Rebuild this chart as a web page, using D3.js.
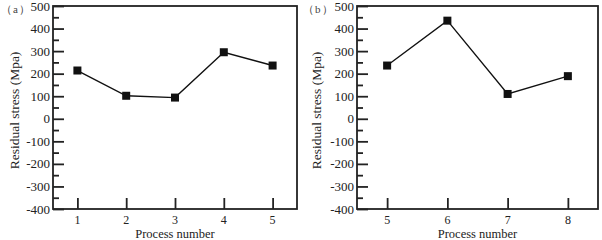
<!DOCTYPE html>
<html>
<head>
<meta charset="utf-8">
<script src="https://cdn.jsdelivr.net/npm/d3@7"></script>
<style>
  body { margin: 0; background: #fff; }
  text { font-family: "Liberation Serif", "Times New Roman", serif; fill: #222; }
</style>
</head>
<body>
<svg id="chart" width="602" height="240"></svg>
<script>
// panel (a)
const processA = [1, 2, 3, 4, 5];
const stressA = [214, 102, 94, 295, 236];
// panel (b)
const processB = [5, 6, 7, 8];
const stressB = [236, 435, 110, 189];

const yTicks = [-400, -300, -200, -100, 0, 100, 200, 300, 400, 500];
const yMinor = [-350, -250, -150, -50, 50, 150, 250, 350, 450];

const svg = d3.select("#chart");

const panels = [
  {label: "（a）", xs: processA, ys: stressA, left: 53, right: 297, labelX: 1, axisTitleX: 14},
  {label: "（b）", xs: processB, ys: stressB, left: 357, right: 598, labelX: 303, axisTitleX: 316}
];

const TOP = 6, BOTTOM = 209;

panels.forEach((p) => {
  const x = d3.scaleLinear()
    .domain([d3.min(p.xs) - 0.5, d3.max(p.xs) + 0.5])
    .range([p.left, p.right]);
  const y = d3.scaleLinear().domain([-400, 500]).range([BOTTOM, TOP]);

  const g = svg.append("g");

  // frame
  g.append("rect")
    .attr("x", p.left).attr("y", TOP)
    .attr("width", p.right - p.left).attr("height", BOTTOM - TOP)
    .attr("fill", "none").attr("stroke", "#222").attr("stroke-width", 1.8);

  // y major ticks (inward)
  const yAxis = g.append("g")
    .attr("transform", "translate(" + p.left + ",0)")
    .call(d3.axisRight(y).tickValues(yTicks).tickSize(11).tickFormat(""));
  yAxis.select(".domain").remove();
  yAxis.selectAll("line").attr("stroke", "#222").attr("stroke-width", 1.8);

  // y minor ticks
  const yAxisMinor = g.append("g")
    .attr("transform", "translate(" + p.left + ",0)")
    .call(d3.axisRight(y).tickValues(yMinor).tickSize(6).tickFormat(""));
  yAxisMinor.select(".domain").remove();
  yAxisMinor.selectAll("line").attr("stroke", "#222").attr("stroke-width", 1.8);

  // y tick labels
  g.selectAll(".ylab")
    .data(yTicks)
    .enter()
    .append("text")
    .attr("x", p.left - 3)
    .attr("y", (d) => y(d) + 4.5)
    .attr("text-anchor", "end")
    .attr("font-size", "13px")
    .text((d) => d);

  // x ticks (inward)
  const xAxis = g.append("g")
    .attr("transform", "translate(0," + BOTTOM + ")")
    .call(d3.axisTop(x).tickValues(p.xs).tickSize(11).tickFormat(""));
  xAxis.select(".domain").remove();
  xAxis.selectAll("line").attr("stroke", "#222").attr("stroke-width", 1.8);

  g.selectAll(".xlab")
    .data(p.xs)
    .enter()
    .append("text")
    .attr("x", (d) => x(d))
    .attr("y", BOTTOM + 15)
    .attr("text-anchor", "middle")
    .attr("font-size", "12px")
    .text((d) => d);

  // axis titles
  g.append("text")
    .attr("x", (p.left + p.right) / 2)
    .attr("y", 238)
    .attr("text-anchor", "middle")
    .attr("font-size", "12.5px")
    .text("Process number");

  g.append("text")
    .attr("transform", "translate(" + p.axisTitleX + "," + ((TOP + BOTTOM) / 2 + 3) + ") rotate(-90)")
    .attr("text-anchor", "middle")
    .attr("dy", "0.35em")
    .attr("font-size", "13.5px")
    .text("Residual stress (Mpa)");

  // panel label
  g.append("text")
    .attr("x", p.labelX)
    .attr("y", 13)
    .attr("font-size", "11px")
    .attr("letter-spacing", "1px")
    .style("fill", "#444")
    .text(p.label);

  // line + markers
  const pts = p.xs.map((v, i) => [v, p.ys[i]]);
  g.append("path")
    .datum(pts)
    .attr("fill", "none")
    .attr("stroke", "#111")
    .attr("stroke-width", 1.4)
    .attr("d", d3.line().x((d) => x(d[0])).y((d) => y(d[1])));

  g.selectAll(".pt")
    .data(pts)
    .enter()
    .append("rect")
    .attr("x", (d) => x(d[0]) - 4)
    .attr("y", (d) => y(d[1]) - 4)
    .attr("width", 8)
    .attr("height", 8)
    .attr("fill", "#111");
});
</script>
</body>
</html>
